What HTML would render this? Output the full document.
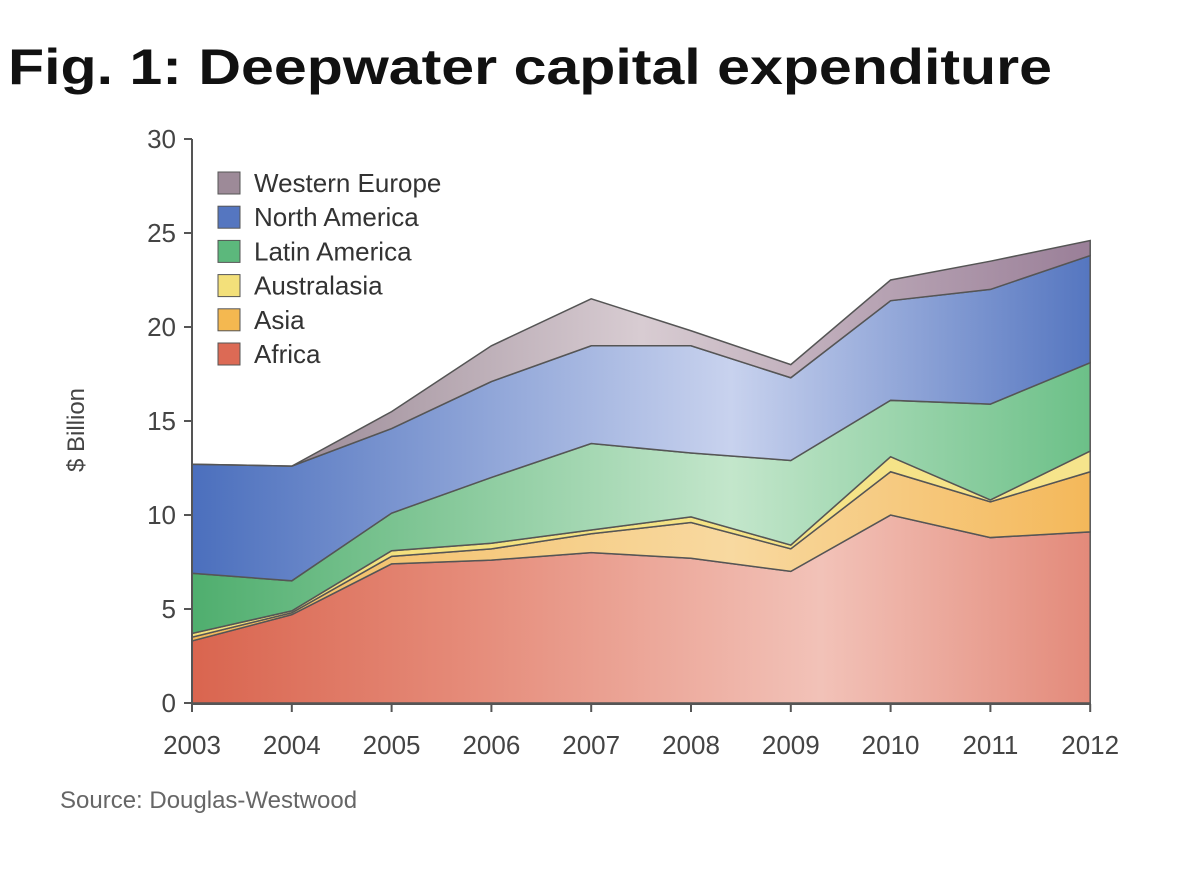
<!DOCTYPE html>
<html><head><meta charset="utf-8"><style>
body{margin:0;background:#fff;width:1200px;height:868px;overflow:hidden;font-family:"Liberation Sans",sans-serif}
</style></head><body>
<svg id="s" width="1200" height="868" xmlns="http://www.w3.org/2000/svg">
<defs>
<linearGradient id="gAf" x1="0" y1="0" x2="1" y2="0">
<stop offset="0" stop-color="#d9654f"/><stop offset="0.3" stop-color="#e58a78"/><stop offset="0.7" stop-color="#f2c2b8"/><stop offset="1" stop-color="#e38a7a"/></linearGradient>
<linearGradient id="gAs" x1="0" y1="0" x2="1" y2="0">
<stop offset="0" stop-color="#f2b858"/><stop offset="0.6" stop-color="#f8d9a0"/><stop offset="1" stop-color="#f4b85a"/></linearGradient>
<linearGradient id="gAu" x1="0" y1="0" x2="1" y2="0">
<stop offset="0" stop-color="#f3e07a"/><stop offset="1" stop-color="#f6e48c"/></linearGradient>
<linearGradient id="gLa" x1="0" y1="0" x2="1" y2="0">
<stop offset="0" stop-color="#4fae6e"/><stop offset="0.6" stop-color="#c3e6cb"/><stop offset="1" stop-color="#6cc088"/></linearGradient>
<linearGradient id="gNa" x1="0" y1="0" x2="1" y2="0">
<stop offset="0" stop-color="#4b6fbd"/><stop offset="0.6" stop-color="#c8d2ee"/><stop offset="1" stop-color="#5576c0"/></linearGradient>
<linearGradient id="gWe" x1="0" y1="0" x2="1" y2="0">
<stop offset="0" stop-color="#8c7a88"/><stop offset="0.5" stop-color="#d8ccd2"/><stop offset="1" stop-color="#9a7f98"/></linearGradient>
</defs>
<text x="8" y="84" font-size="50" font-weight="bold" fill="#111" textLength="1044" lengthAdjust="spacingAndGlyphs">Fig. 1: Deepwater capital expenditure</text>
<g id="areas"></g>
<g stroke="#555" stroke-width="2">
<line x1="192" y1="139" x2="192" y2="704"/>
<line x1="191" y1="704" x2="1091" y2="704"/>
</g>
<g id="ax" font-size="26" fill="#444"></g>
<text transform="translate(84,430) rotate(-90)" font-size="24" fill="#444" text-anchor="middle">$ Billion</text>
<text x="60" y="808" font-size="24" fill="#666">Source: Douglas-Westwood</text>
<g id="leg" font-size="26" fill="#333"></g>
</svg>
<script>
const y0=703,sc=18.8,x0=192,dx=99.8;
const X=i=>x0+i*dx,Y=v=>y0-v*sc;
const tops=[
[3.3,4.7,7.4,7.6,8.0,7.7,7.0,10.0,8.8,9.1],
[3.5,4.8,7.8,8.2,9.0,9.6,8.2,12.3,10.7,12.3],
[3.7,4.9,8.1,8.5,9.2,9.9,8.4,13.1,10.8,13.4],
[6.9,6.5,10.1,12.0,13.8,13.3,12.9,16.1,15.9,18.1],
[12.7,12.6,14.6,17.1,19.0,19.0,17.3,21.4,22.0,23.8],
[12.7,12.6,15.5,19.0,21.5,19.8,18.0,22.5,23.5,24.6]];
const fills=["url(#gAf)","url(#gAs)","url(#gAu)","url(#gLa)","url(#gNa)","url(#gWe)"];
const ns="http://www.w3.org/2000/svg";
const g=document.getElementById("areas");
let prev=new Array(10).fill(0);
tops.forEach((t,k)=>{
 let pts=t.map((v,i)=>X(i)+","+Y(v));
 for(let i=9;i>=0;i--)pts.push(X(i)+","+Y(prev[i]));
 const p=document.createElementNS(ns,"polygon");
 p.setAttribute("points",pts.join(" "));p.setAttribute("fill",fills[k]);
 p.setAttribute("stroke","#555");p.setAttribute("stroke-width","1.5");
 g.appendChild(p);prev=t;
});
const ax=document.getElementById("ax");
function T(x,y,s,a){const e=document.createElementNS(ns,"text");e.setAttribute("x",x);e.setAttribute("y",y);e.setAttribute("text-anchor",a);e.textContent=s;ax.appendChild(e);}
function L(a,b,c,d){const e=document.createElementNS(ns,"line");e.setAttribute("x1",a);e.setAttribute("y1",b);e.setAttribute("x2",c);e.setAttribute("y2",d);e.setAttribute("stroke","#555");e.setAttribute("stroke-width","2");ax.appendChild(e);}
for(let v=0;v<=30;v+=5){T(176,Y(v)+9,v,"end");L(184,Y(v),192,Y(v));}
for(let i=0;i<10;i++){T(X(i),754,2003+i,"middle");L(X(i),704,X(i),712);}
const names=["Western Europe","North America","Latin America","Australasia","Asia","Africa"];
const lc=["#9d8a98","#5576c0","#5cb87c","#f3e07a","#f4b850","#dc6a55"];
const leg=document.getElementById("leg");
names.forEach((n,i)=>{const cy=183+i*34.2;
 const r=document.createElementNS(ns,"rect");r.setAttribute("x",218);r.setAttribute("y",cy-11);r.setAttribute("width",22);r.setAttribute("height",22);r.setAttribute("fill",lc[i]);r.setAttribute("stroke","#555");leg.appendChild(r);
 const t=document.createElementNS(ns,"text");t.setAttribute("x",254);t.setAttribute("y",cy+9);t.textContent=n;leg.appendChild(t);});
</script>
</body></html>
